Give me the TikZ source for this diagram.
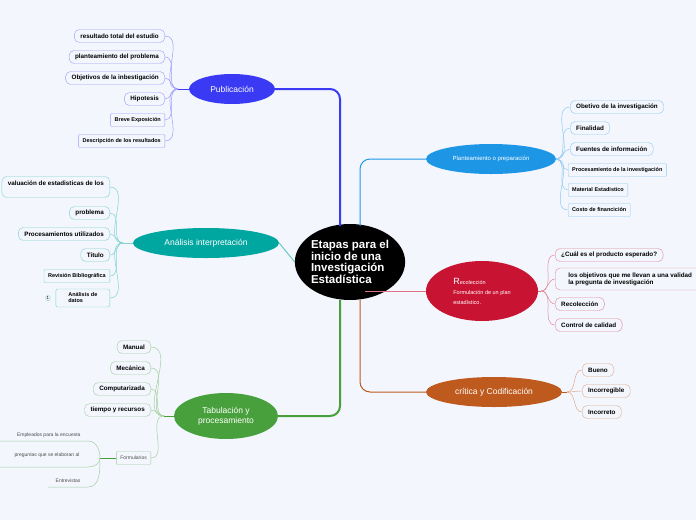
\documentclass[tikz,border=0pt]{standalone}
\usepackage{fontspec}
\setmainfont{Liberation Sans}
\definecolor{bg}{RGB}{243,246,253}
\definecolor{cpub}{RGB}{58,58,245}
\definecolor{cana}{RGB}{0,166,160}
\definecolor{ctab}{RGB}{72,160,60}
\definecolor{cpla}{RGB}{30,150,230}
\definecolor{crec}{RGB}{200,20,50}
\definecolor{ccri}{RGB}{190,90,30}
\tikzset{
  branch/.style={ellipse, text=white, inner sep=1pt, font=\fontsize{8.5}{10}\selectfont, align=center},
  leaf/.style={draw, rounded corners=5pt, fill=bg, minimum height=13pt, inner xsep=6pt, inner ysep=1pt, font=\fontsize{6.3}{7}\selectfont\bfseries, align=left},
  twig/.style={line width=0.5pt},
}
\usetikzlibrary{shapes.geometric}
\begin{document}
\begin{tikzpicture}[x=1pt, y=-1pt]
  \fill[bg] (0,0) rectangle (696,520);
  \useasboundingbox (0,0) rectangle (696,520);

  % Main
  \node[ellipse, fill=black, text=white, minimum width=104pt, minimum height=76pt, inner sep=0pt,
        align=left, font=\fontsize{11.5}{11.5}\selectfont\bfseries] (cen) at (350,262)
        {Etapas para el\\inicio de una\\Investigación\\Estadística};

  % Branches
  \node[branch, fill=cpub, minimum width=86pt, minimum height=30pt] (pub) at (232,89) {Publicación};
  \node[branch, fill=cana, minimum width=146pt, minimum height=30pt] (ana) at (206,243) {Análisis interpretación};
  \node[branch, fill=ctab, minimum width=104pt, minimum height=46pt] (tab) at (226,416) {Tabulación y\\procesamiento};
  \node[branch, fill=cpla, minimum width=130pt, minimum height=30pt, font=\fontsize{6}{7}\selectfont] (pla) at (491,159) {Planteamiento o preparación};
  \node[branch, fill=crec, minimum width=112pt, minimum height=60pt, font=\fontsize{5.5}{10}\selectfont, align=left] (rec) at (482,291)
        {{\fontsize{9}{10}\selectfont R}ecolección\\ Formulación de un plan\\estadístico.};
  \node[branch, fill=ccri, minimum width=136pt, minimum height=30pt] (cri) at (494,392) {crítica y Codificación};

  % Main connectors
  \coordinate (cp1) at (340,226);
  \coordinate (cp2) at (360,226);
  \coordinate (cp3) at (340,300);
  \coordinate (cp4) at (360,300);
  \draw[cpub, line width=2pt, rounded corners=10pt] (cp1) |- (pub.east);
  \draw[cana!60, line width=1pt] (cen.west) -- (ana.east);
  \draw[ctab, line width=2pt, rounded corners=10pt] (cp3) |- (tab.east);
  \draw[cpla, line width=1pt, rounded corners=10pt] (cp2) |- (pla.west);
  \draw[crec!60, line width=1pt] (365,291) coordinate (cp5) -- (rec.west);
  \draw[ccri, line width=1pt, rounded corners=10pt] (cp4) |- (cri.west);

  % Publicación leaves
  \coordinate (jpub) at (178,89);
  \draw[cpub, line width=1pt] (pub.west) -- (jpub);
  \foreach \y/\t [count=\i] in {36/resultado total del estudio, 57/planteamiento del problema,
      78/Objetivos de la inbestigación, 99/Hipotesis} {
    \node[leaf, draw=cpub!50, anchor=east] (p\i) at (165,\y) {\t};
    \draw[twig, cpub!50] (jpub) to[out=180, in=0] (p\i.east);
  }
  \foreach \y/\t [count=\i from 5] in {120/Breve Exposición, 141/Descripción de los resultados} {
    \node[leaf, draw=cpub!50, anchor=east, rounded corners=1pt, inner xsep=4pt, font=\fontsize{5.5}{6}\selectfont\bfseries] (p\i) at (165,\y) {\t};
    \draw[twig, cpub!50] (jpub) to[out=180, in=0] (p\i.east);
  }

  % Análisis leaves
  \coordinate (jana) at (123,243);
  \node[leaf, draw=cana!50, anchor=east, minimum height=21pt, text depth=8pt] (a1) at (110,187) {valuación de estadisticas de los};
  \foreach \y/\t [count=\i from 2] in {213/problema, 234/Procesamientos utilizados, 255/Titulo} {
    \node[leaf, draw=cana!50, anchor=east] (a\i) at (110,\y) {\t};
  }
  \node[leaf, draw=cana!50, anchor=east, rounded corners=1pt, inner xsep=4pt, font=\fontsize{5.5}{6}\selectfont\bfseries] (a5) at (110,276) {Revisión Bibliográfica};
  \node[leaf, draw=cana!50, anchor=east, rounded corners=2pt, minimum width=54pt, minimum height=18pt,
        font=\fontsize{5.5}{6}\selectfont\bfseries] (a6) at (110,298) {Análisis de\\datos};
  \node[draw=cana!50, rounded corners=1.5pt, fill=bg, inner sep=1pt, font=\fontsize{4.5}{5}\selectfont] (a6n) at (48,298) {1};
  \draw[cana!50, line width=0.7pt] (ana.west) -- (jana);
  \foreach \i in {1,...,6} { \draw[twig, cana!50] (jana) to[out=180, in=0] (a\i.east); }

  % Tabulación leaves
  \coordinate (jtab) at (164,416);
  \draw[ctab, line width=0.7pt] (tab.west) -- (jtab);
  \foreach \y/\t [count=\i] in {347/Manual, 368/Mecánica, 389/Computarizada, 410/tiempo y recursos} {
    \node[leaf, draw=ctab!50, anchor=east] (t\i) at (151,\y) {\t};
    \draw[twig, ctab!50] (jtab) to[out=180, in=0] (t\i.east);
  }
  \node[leaf, draw=ctab!50, anchor=east, rounded corners=1pt, inner xsep=4pt, font=\fontsize{5}{6}\selectfont, text=black!70] (t5) at (151,458) {Formularios};
  \draw[twig, ctab!50] (jtab) to[out=180, in=0] (t5.east);

  % Formularios sub leaves
  \coordinate (jfor) at (100,458);
  \draw[ctab, line width=0.7pt] (t5.west) -- (jfor);
  \node[font=\fontsize{5}{6}\selectfont, text=black!70, anchor=east] (f1) at (84,435) {Empleados para la encuesta};
  \node[font=\fontsize{5}{6}\selectfont, text=black!70, anchor=east] (f2) at (83,455) {preguntas que se elaboran al};
  \node[font=\fontsize{5}{6}\selectfont, text=black!70, anchor=east] (f3) at (84,481) {Entrevistas};
  \coordinate (f1e) at (88,441);
  \coordinate (f2e) at (88,467);
  \coordinate (f3e) at (88,487);
  \draw[twig, ctab!50] (0,441) -- (f1e) to[out=0, in=90] (jfor);
  \draw[twig, ctab!50] (0,467) -- (f2e) to[out=0, in=-90] (jfor);
  \draw[twig, ctab!50] (48,487) -- (f3e) to[out=0, in=-90] (jfor);

  % Planteamiento leaves
  \coordinate (jpla) at (556,159);
  \draw[cpla!50, line width=0.7pt] (pla.east) -- (jpla);
  \foreach \y/\t [count=\i] in {107/Obetivo de la investigación, 128/Finalidad, 149/Fuentes de información} {
    \node[leaf, draw=cpla!50, anchor=west] (l\i) at (570,\y) {\t};
    \draw[twig, cpla!50] (jpla) to[out=0, in=180] (l\i.west);
  }
  \foreach \y/\t [count=\i from 4] in {170/Procesamiento de la investigación, 190/Material Estadistico, 210/Costo de financición} {
    \node[leaf, draw=cpla!50, anchor=west, rounded corners=1pt, inner xsep=4pt, font=\fontsize{5.5}{6}\selectfont\bfseries] (l\i) at (568,\y) {\t};
    \draw[twig, cpla!50] (jpla) to[out=0, in=180] (l\i.west);
  }

  % Recolección leaves
  \coordinate (jrec) at (541,291);
  \draw[crec!60, line width=0.7pt] (rec.east) -- (jrec);
  \node[leaf, draw=crec!50, anchor=west] (r1) at (555,255) {¿Cuál es el producto esperado?};
  \node[leaf, draw=crec!50, anchor=west, minimum height=22pt, minimum width=150pt] (r2) at (555,279) {los objetivos que me llevan a una validad\\la pregunta de investigación};
  \node[leaf, draw=crec!50, anchor=west] (r3) at (555,304) {Recolección};
  \node[leaf, draw=crec!50, anchor=west] (r4) at (555,325) {Control de calidad};
  \foreach \i in {1,...,4} { \draw[twig, crec!50] (jrec) to[out=0, in=180] (r\i.west); }

  % Crítica leaves
  \coordinate (jcri) at (567,392);
  \draw[ccri, line width=0.7pt] (cri.east) -- (jcri);
  \foreach \y/\t [count=\i] in {370/Bueno, 391/Incorregible, 412/Incorreto} {
    \node[leaf, draw=ccri!50, anchor=west] (c\i) at (582,\y) {\t};
    \draw[twig, ccri!50] (jcri) to[out=0, in=180] (c\i.west);
  }
\end{tikzpicture}
\end{document}
